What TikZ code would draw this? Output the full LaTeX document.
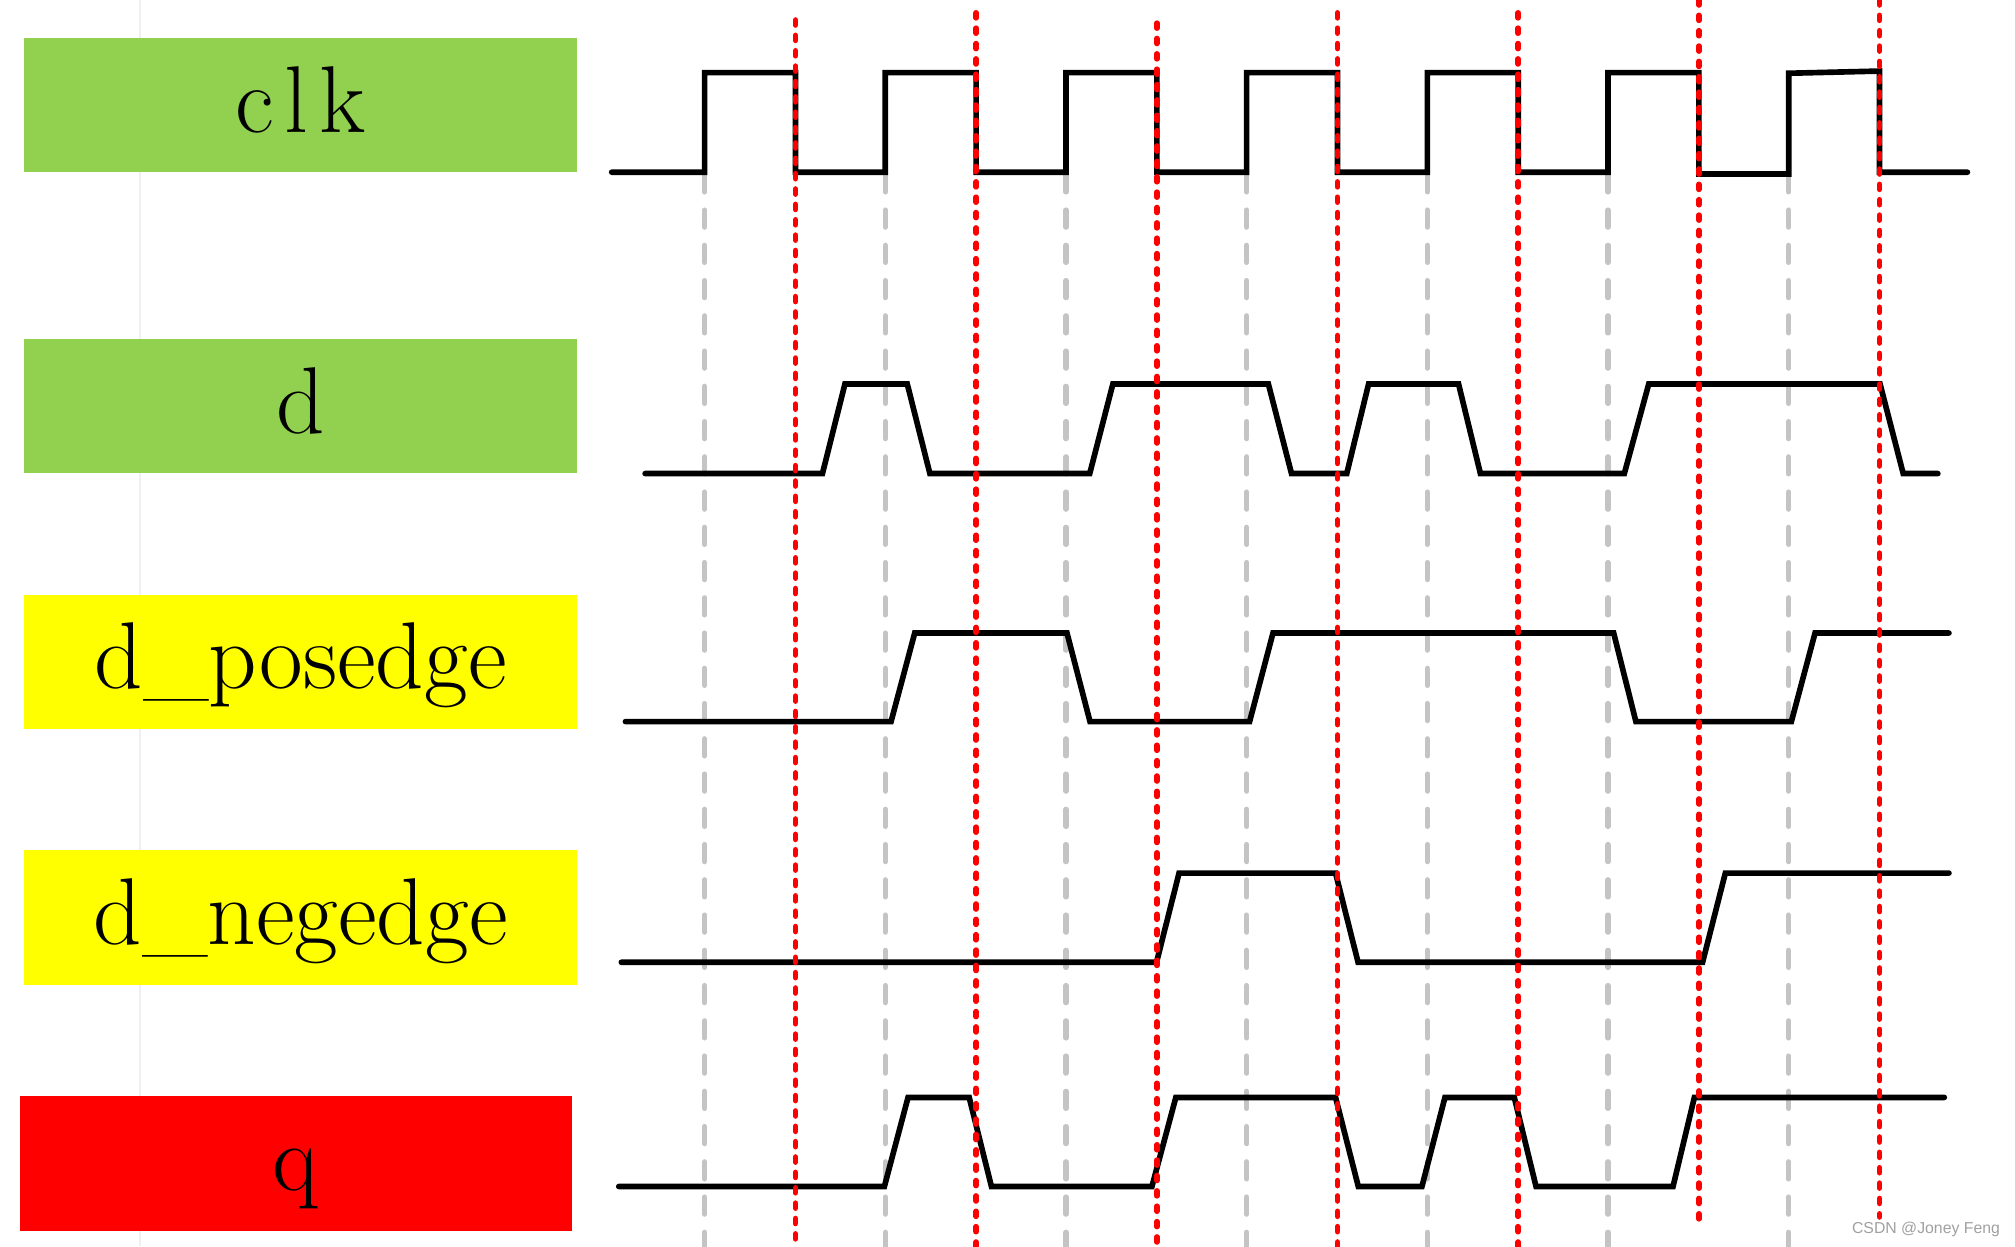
\documentclass[tikz,border=0pt]{standalone}
\usepackage{fontspec}
\newfontfamily\wmfont{Liberation Sans}
\definecolor{lgreen}{HTML}{92D050}
\definecolor{lyellow}{HTML}{FFFF00}
\definecolor{lred}{HTML}{FF0000}
\definecolor{dgray}{HTML}{C4C4C4}
\definecolor{faint}{HTML}{F0F0F0}
\definecolor{wmgray}{HTML}{A0A0A0}
\tikzset{
  lab/.style={rectangle, draw=none, inner sep=0pt, minimum width=4.30cm, minimum height=1.045cm,
    text height=0.55cm, text depth=0.13cm, font=\fontsize{21}{25}\selectfont},
  wave/.style={line width=1.25pt, black, line cap=round},
  fallmark/.style={line width=1.25pt, lred, line cap=round, dash pattern=on 1.1pt off 2.3pt},
  risemark/.style={line width=1.15pt, dgray, line cap=round, dash pattern=on 3.8pt off 4.0pt},
}
\begin{document}
\begin{tikzpicture}[x=0.01cm,y=-0.01cm]
\useasboundingbox (0,0) rectangle (1568,969.6);
% faint guide line
\draw[faint, line width=0.6pt] (109,0) -- (109,969.6);
% label boxes
\node[lab, fill=lgreen] (clk) at (233.9,81.7) {c\kern2.5pt l\kern2.5pt k};
\node[lab, fill=lgreen] (d) at (233.9,316) {d};
\node[lab, fill=lyellow] (dpos) at (233.9,515) {d\_posedge};
\node[lab, fill=lyellow] (dneg) at (233.9,714) {d\_negedge};
\node[lab, fill=lred] (q) at (230.3,905.5) {q};
% rising-edge guides
\foreach \x in {548.3,688.9,829.5,970.1,1110.7,1251.3,1391.9}
  \draw[risemark] (\x,136) -- (\x,972);
% waveforms
\draw[wave] (476,134) -- (548.3,134) -- (548.3,56.5) -- (619,56.5) -- (619,134)
  -- (688.9,134) -- (688.9,56.5) -- (759.6,56.5) -- (759.6,134)
  -- (829.5,134) -- (829.5,56.5) -- (900.2,56.5) -- (900.2,134)
  -- (970.1,134) -- (970.1,56.5) -- (1040.8,56.5) -- (1040.8,134)
  -- (1110.7,134) -- (1110.7,56.5) -- (1181.4,56.5) -- (1181.4,134)
  -- (1251.3,134) -- (1251.3,56.5) -- (1322,56.5) -- (1322,135.4)
  -- (1391.9,135.4) -- (1391.9,57) -- (1462.6,55.3) -- (1462.6,134) -- (1531,134);
\draw[wave] (502,368.5) -- (640,368.5) -- (657.5,298.8) -- (706,298.8) -- (723.6,368.5)
  -- (848,368.5) -- (866,298.8) -- (987,298.8) -- (1005,368.5)
  -- (1048,368.5) -- (1065,298.8) -- (1135,298.8) -- (1152,368.5)
  -- (1264,368.5) -- (1283,298.8) -- (1463,298.8) -- (1481,368.5) -- (1508,368.5);
\draw[wave] (486.7,561.5) -- (693.4,561.5) -- (711.8,492.6) -- (830.3,492.6) -- (848.2,561.5)
  -- (972.4,561.5) -- (990.6,492.6) -- (1255.7,492.6) -- (1273,561.5)
  -- (1394,561.5) -- (1412.4,492.6) -- (1516.6,492.6);
\draw[wave] (483.5,748.8) -- (900,748.8) -- (917.5,679.4) -- (1039.3,679.4) -- (1056.8,748.8)
  -- (1324.9,748.8) -- (1342.6,679.4) -- (1516.6,679.4);
\draw[wave] (481.5,923.3) -- (688.2,923.3) -- (706.6,854) -- (754.2,854) -- (771.5,923.3)
  -- (896.4,923.3) -- (915,854) -- (1039.3,854) -- (1057,923.3)
  -- (1106.5,923.3) -- (1124.4,854) -- (1178.4,854) -- (1195.3,923.3)
  -- (1301.9,923.3) -- (1318.5,854) -- (1513,854);
% falling-edge markers
\foreach \x/\ya/\yb in {619/15.6/972, 759.6/10/972, 900.2/18/972, 1040.8/10/972,
  1181.4/10/972, 1322/0/949.8, 1462.6/0/947}
  \draw[fallmark] (\x,\ya) -- (\x,\yb);
% watermark
\node[anchor=base east, inner sep=0pt, text=wmgray, font=\wmfont\fontsize{3.5}{4}\selectfont]
  (wm) at (1557,959.6) {CSDN @Joney Feng};
\end{tikzpicture}
\end{document}
